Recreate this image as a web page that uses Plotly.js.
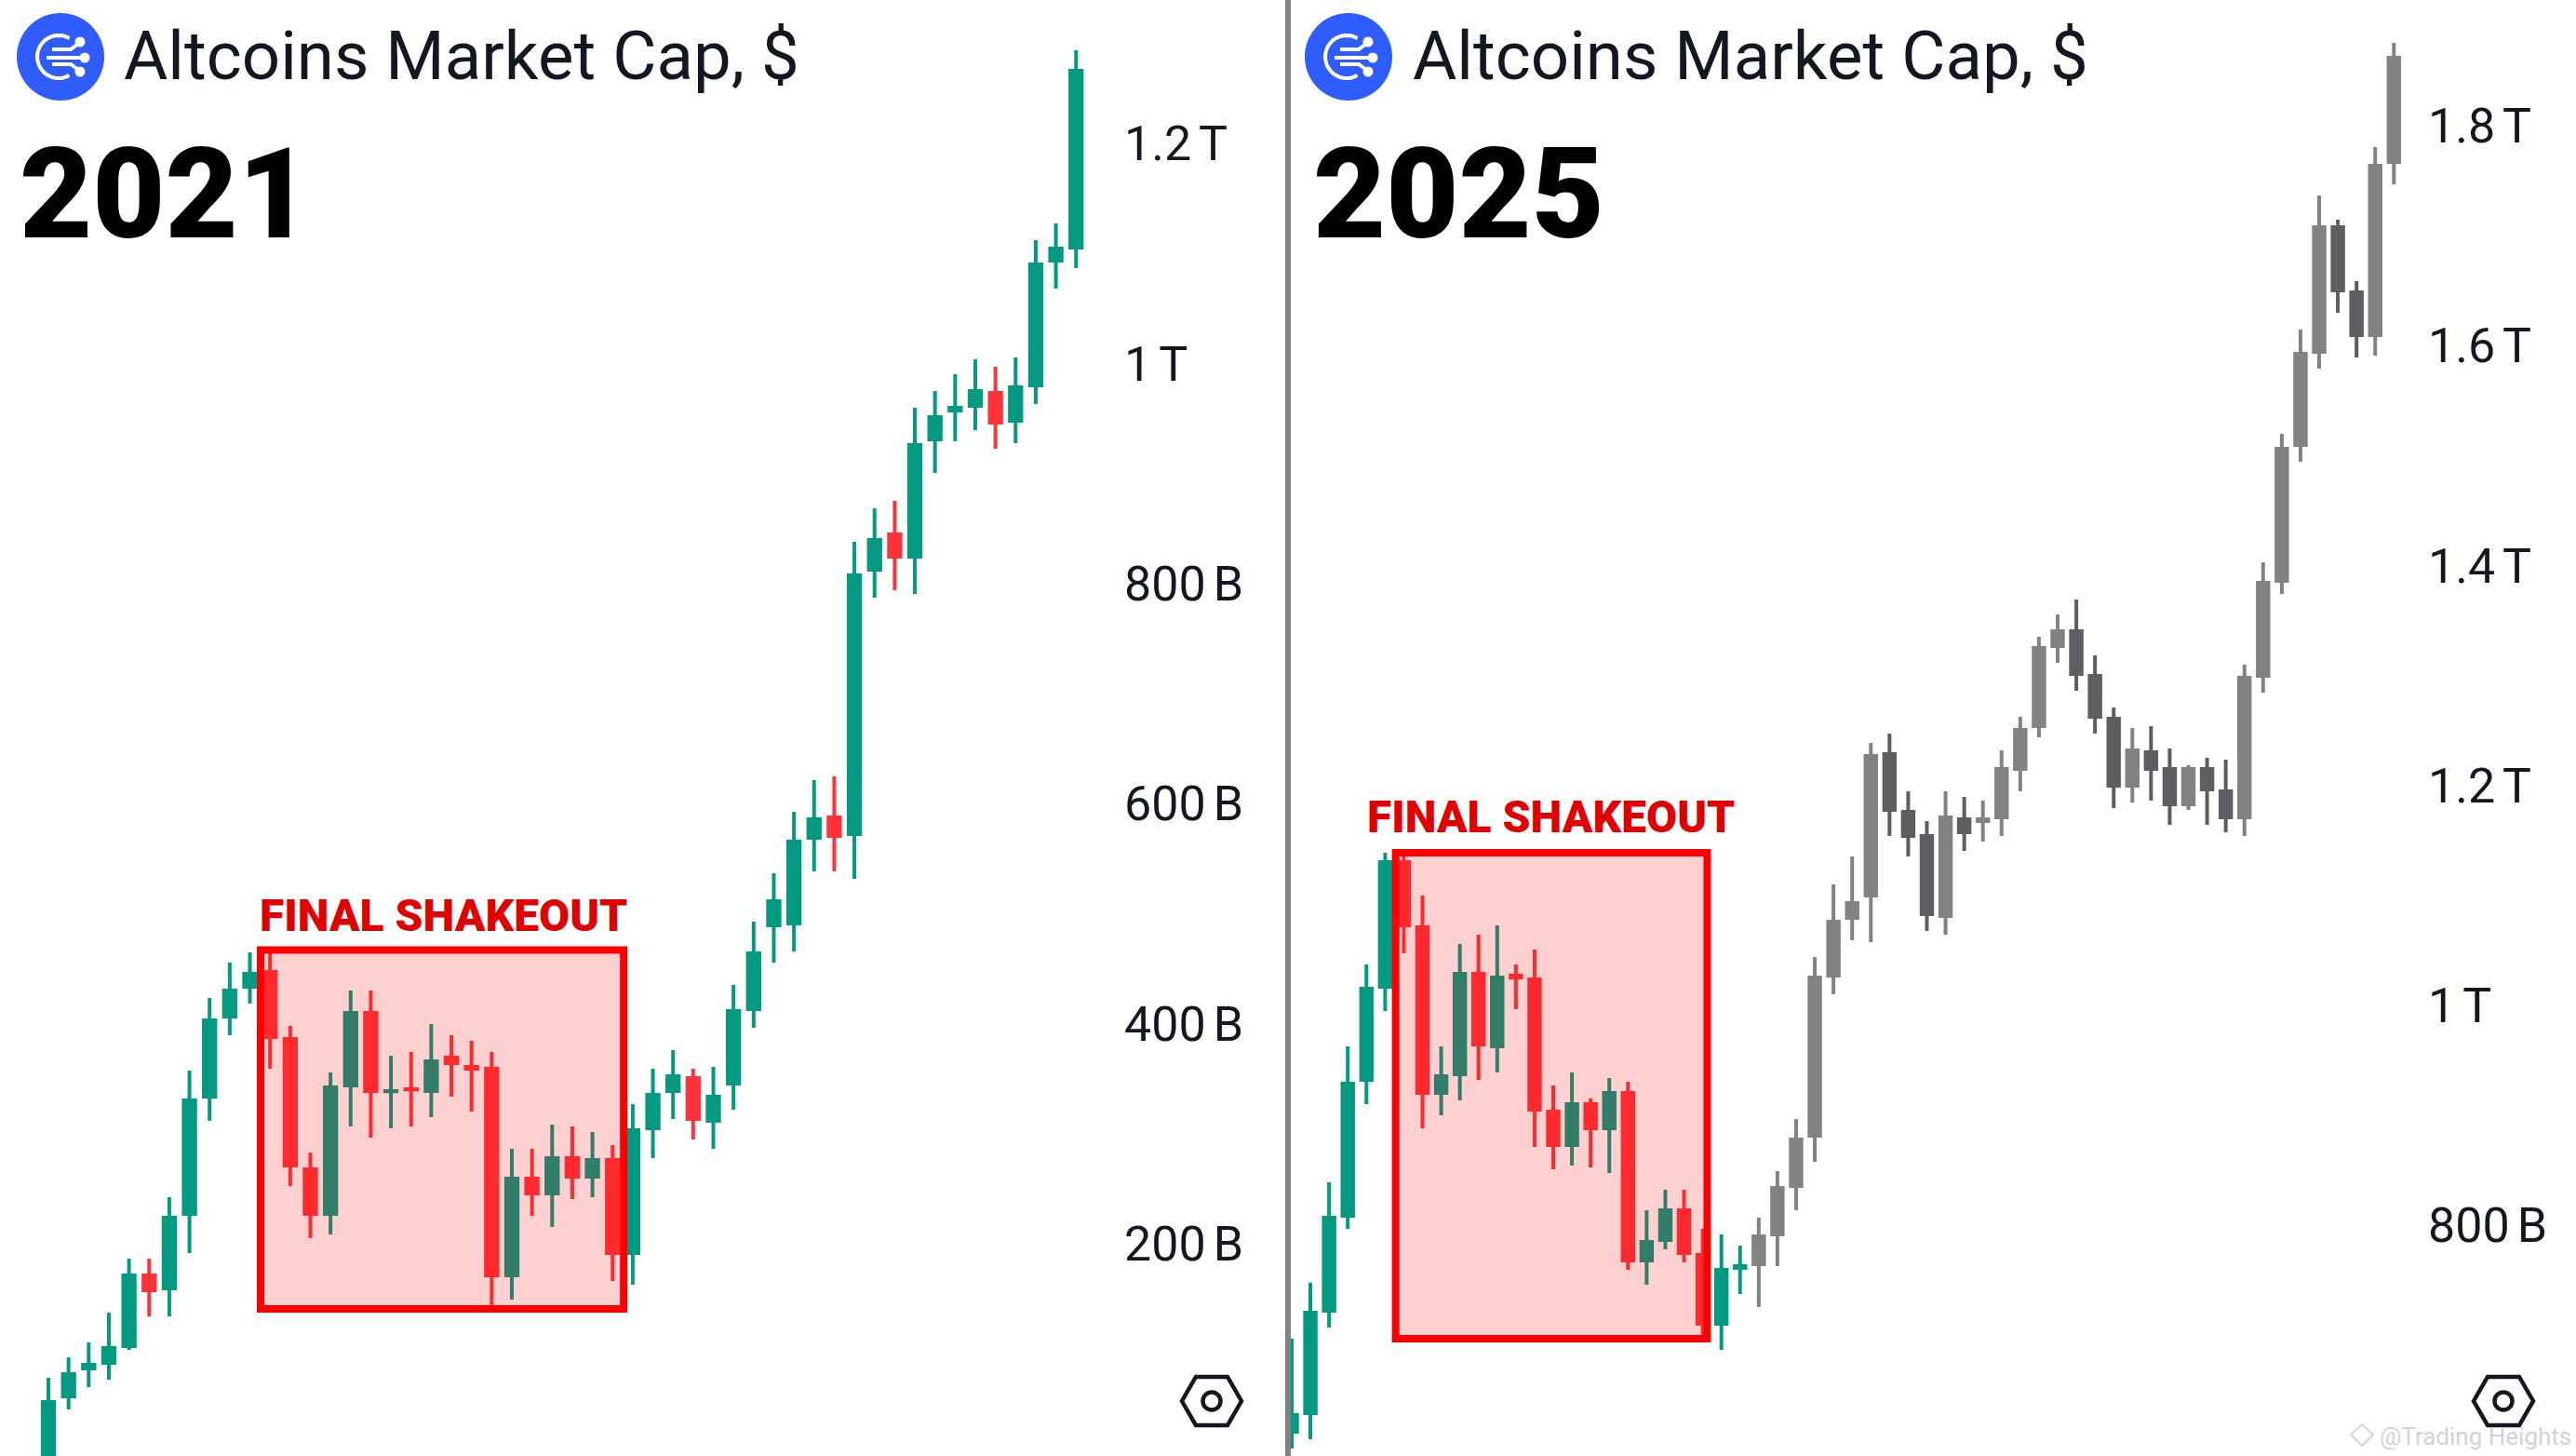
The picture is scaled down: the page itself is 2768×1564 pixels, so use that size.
<!DOCTYPE html>
<html><head><meta charset="utf-8">
<script src="https://cdn.plot.ly/plotly-3.0.1.min.js"></script>
<style>html,body{margin:0;padding:0;background:#fff}#c{width:2768px;height:1564px}</style>
</head><body><div id="c"></div>
<script>
const W = 2768, H = 1564;
const chartTitle = 'Altcoins Market Cap, $';
const shakeoutLabel = 'FINAL SHAKEOUT';
const watermark = '@Trading Heights';

// 2021 panel, values in billions of dollars
const high2021 = [78.2,96.8,110.4,137.4,186.5,186.5,242.3,357.4,423.4,455.5,464.8,469.1,398,283,355.7,430.2,430.2,370.9,374.3,399.7,389.5,384.5,374.3,286.3,286.3,308.3,306.6,301.6,289.7,326.9,359.1,376,359.1,360.8,435.2,492.8,536.8,592.6,621.4,624.7,837.9,868.4,875.2,959.8,975,990.2,1003.7,997,1005.4,1112,1127.3,1284.6];
const low2021 = [2,49.5,69.8,76.5,103.6,134.1,134.1,191.6,311.7,389.5,418.3,359.1,252.5,205.1,208.5,306.6,296.5,304.9,306.6,315.1,333.7,320.2,139.1,149.3,225.4,215.3,240.7,242.3,166.2,162.8,277.9,313.4,294.8,286.3,321.9,396.3,455.5,465.7,538.4,538.4,531.7,787.2,793.9,790.6,900.5,929.3,939.4,922.5,927.6,963.1,1068,1086.7];
const open2021 = [5,61.3,86.7,91.8,107,171.3,159.4,227.1,333.7,406.5,433.5,447.1,386.2,267.7,227.1,343.9,409.8,338.7,340.6,338.8,369.2,360.8,359.1,171.3,259.3,245.7,277.9,261,276.2,191.6,305,338.8,350.6,311.7,345.6,413.2,489.4,491.1,568.9,587.5,572.3,812.6,844.7,824.4,931,957.2,961.5,973.3,947.9,980.1,1093.4,1105.3];
const close2021 = [56.2,81.6,90.1,105.3,171.3,157.8,223.7,330.3,403.1,430.1,445.4,387.9,271.1,227.1,342.2,409.8,338.8,338.9,340.4,365.9,364.2,359.1,171.3,259.3,245.7,277.9,261,276.2,191.6,303.2,335.4,352.3,313.4,333.7,411.5,464,511.4,565.5,585.8,570.6,807.5,839.6,824.4,925.9,951.3,959.7,975,946.2,978.4,1090,1104.4,1266];
const ticks2021 = [200,400,600,800,1000,1200];
const labels2021 = ['200 B','400 B','600 B','800 B','1 T','1.2 T'];

// 2025 panel, values in billions of dollars
const high2025 = [696.7,747.5,839,962.6,1037.1,1138.7,1137,1099.8,962.6,1055.7,1064.2,1072.7,1037.1,1050.7,927,938.9,915.2,933.8,930.4,813.6,832.2,832.2,796.7,791.6,781.4,806.8,849.2,896.6,1043.9,1109.9,1135.3,1238.6,1247.1,1194.6,1167.5,1194.6,1189.5,1186.1,1231.9,1262.3,1335.2,1355.5,1369,1318.2,1270.8,1252.2,1253.9,1233.6,1218.3,1225.1,1223.4,1309.8,1402.9,1519.7,1614.6,1736.5,1714.5,1658.6,1780.5,1875.4];
const low2025 = [596.8,605.3,706.9,796.7,910.1,994.8,1047.3,888.1,900,913.5,932.1,938.9,996.5,871.2,850.8,854.2,852.5,847.5,759.4,745.9,778,766.2,693.4,686.6,737.4,725.5,762.8,813.6,857.6,1010,1059.1,1057.4,1154,1135.3,1067.6,1064.2,1140.4,1148.9,1154,1194.6,1243.7,1311.4,1286,1247.1,1179.4,1184.4,1186.1,1164.1,1177.7,1164.1,1157.4,1154,1284.4,1374.1,1494.3,1579,1629.8,1589.2,1590.9,1746.7];
const open2025 = [612.1,629,722.2,808.5,932.1,1016.8,1130.2,1071,920.3,937.2,1028.7,962.6,1027,1023.6,903.3,872.9,910.1,888.1,920.3,767.9,786.5,813.6,772.9,710.3,761.1,764.5,791.6,835.6,881.3,1027,1079.5,1099.8,1228.5,1176,1154,1081.2,1169.2,1167.5,1170.9,1214.9,1253.9,1326.7,1340.2,1299.6,1260.6,1199.7,1230.2,1214.9,1182.8,1214.9,1194.6,1170.9,1299.6,1386,1509.6,1594.3,1707.7,1648.4,1609.5,1767];
const close2025 = [627.3,720.4,806.8,928.7,1015.1,1130.2,1072.7,920.3,935.5,1028.7,964.3,1025.3,1025.3,905,872.9,910.1,888.1,920.3,767.9,784.8,813.6,774.6,710.3,759.4,762.8,789.9,833.9,877.9,1025.3,1076.1,1093,1226.8,1177.7,1154,1082.8,1170.9,1157.4,1169.2,1214.9,1250.5,1325,1340.2,1301.3,1262.3,1199.7,1231.9,1214.9,1182.8,1214.9,1196.3,1170.9,1297.9,1384.3,1506.2,1592.6,1707.7,1650.1,1609.5,1763.6,1861.8];
const ticks2025 = [800,1000,1200,1400,1600,1800];
const labels2025 = ['800 B','1 T','1.2 T','1.4 T','1.6 T','1.8 T'];
const colouredCount2025 = 25;   // candles after this are greyed out

const GREEN = '#049a81', RED = '#ff3339', GREYUP = '#828282', GREYDN = '#5d5e61', INK = '#131722';

const idx = a => a.map((_, i) => i);
function candle(x, o, h, l, c, up, dn, xa, ya) {
  return {type:'candlestick', x, open:o, high:h, low:l, close:c, xaxis:xa, yaxis:ya,
    whiskerwidth:0, hoverinfo:'skip', showlegend:false,
    increasing:{line:{color:up, width:4}, fillcolor:up},
    decreasing:{line:{color:dn, width:4}, fillcolor:dn}};
}
const x25 = idx(high2025), n = colouredCount2025;
const traces = [
  candle(idx(high2021), open2021, high2021, low2021, close2021, GREEN, RED, 'x', 'y'),
  candle(x25.slice(0,n), open2025.slice(0,n), high2025.slice(0,n), low2025.slice(0,n), close2025.slice(0,n), GREEN, RED, 'x2', 'y2'),
  candle(x25.slice(n), open2025.slice(n), high2025.slice(n), low2025.slice(n), close2025.slice(n), GREYUP, GREYDN, 'x2', 'y2')
];

// pixel helpers for page furniture only
const px = x => x / W, py = y => 1 - y / H;
const P = (x, y) => px(x) + ',' + py(y);
function poly(pts, close) { return 'M' + pts.map(p => P(p[0], p[1])).join('L') + (close ? 'Z' : ''); }
function paperPath(path, color, w, fill) {
  return {type:'path', xref:'paper', yref:'paper', path, layer:'above',
    line:{color, width:w}, fillcolor: fill || 'rgba(0,0,0,0)'};
}
function circle(cx, cy, r, fill, line, w) {
  return {type:'circle', xref:'paper', yref:'paper', layer:'above',
    x0:px(cx-r), x1:px(cx+r), y0:py(cy+r), y1:py(cy-r),
    fillcolor:fill, line:{color:line || fill, width:w || 0}};
}
function logo(cx, cy) {
  const arc = [];
  for (let a = 60; a <= 300; a += 10) {
    const t = a * Math.PI / 180;
    arc.push([cx - 2 + 23 * Math.cos(t) , cy + 23 * Math.sin(t)]);
  }
  const o = (dx, dy) => [cx + dx, cy + dy];
  return [
    circle(cx, cy, 47, '#2e5cff'),
    paperPath(poly(arc), '#fff', 4),
    paperPath(poly([o(-15,1), o(26,1)]), '#fff', 4),
    paperPath(poly([o(-9,-8), o(11,-8), o(22,-16)]), '#fff', 4),
    paperPath(poly([o(-9,8), o(11,8), o(22,16)]), '#fff', 4),
    circle(cx+26, cy+1, 5.5, '#fff'),
    circle(cx+21, cy-16, 5.5, '#fff'),
    circle(cx+21, cy+16, 5.5, '#fff')
  ];
}
function hexagon(cx, cy) {
  return [
    paperPath(poly([[cx-32,cy],[cx-17,cy-26],[cx+17,cy-26],[cx+32,cy],[cx+17,cy+26],[cx-17,cy+26]], true), INK, 4.5),
    circle(cx, cy, 9.5, 'rgba(0,0,0,0)', INK, 4.5)
  ];
}
function txt(text, x, y, size, opts) {
  opts = opts || {};
  return {text, xref:'paper', yref:'paper', x:px(x), y:py(y), showarrow:false,
    xanchor:opts.anchor || 'left', yanchor:'middle', borderpad:0,
    font:{family:opts.family || 'Roboto, sans-serif', size, color:opts.color || INK, weight:opts.weight || 400}};
}

const shapes = [
  {type:'rect', xref:'x', yref:'y', x0:10.53, x1:28.55, y0:140.8, y1:466.9, layer:'above',
    fillcolor:'rgba(255,0,0,0.185)', line:{color:'#ff0000', width:8}},
  {type:'rect', xref:'x2', yref:'y2', x0:5.56, x1:22.24, y0:696.7, y1:1138.7, layer:'above',
    fillcolor:'rgba(255,0,0,0.185)', line:{color:'#ff0000', width:8}},
  {type:'rect', xref:'paper', yref:'paper', x0:px(1381), x1:px(1387), y0:0, y1:1, layer:'above',
    fillcolor:'#828282', line:{width:0}},
  ...logo(65, 61), ...logo(1449, 61),
  ...hexagon(1302, 1505), ...hexagon(2690, 1505),
  paperPath(poly([[2526,1541],[2538,1530],[2550,1541],[2538,1553]], true), '#d3d6dc', 2)
];

const annotations = [
  txt(chartTitle, 132, 61, 72.6), txt(chartTitle, 1517, 61, 72.6),
  txt('2021', 20, 209, 135, {weight:900, color:'#000'}),
  txt('2025', 1410, 209, 135, {weight:900, color:'#000'}),
  txt(shakeoutLabel, 476, 984, 48, {anchor:'center', weight:900, color:'#e00000'}),
  txt(shakeoutLabel, 1667, 878, 48, {anchor:'center', weight:900, color:'#e00000'}),
  txt(watermark, 2556, 1543, 26, {color:'#d0d3da'})
];

function xax(range, domain) {
  return {range, domain, type:'linear', visible:true, showticklabels:false, ticks:'', showgrid:false,
    zeroline:false, showline:false, fixedrange:true, rangeslider:{visible:false}};
}
const tightLabel = s => s.replace(' ', '<span style="font-size:32px"> </span>');
function yax(range, tickvals, ticktext, anchor) {
  return {range, domain:[0,1], side:'right', anchor, tickmode:'array', tickvals, ticktext:ticktext.map(tightLabel), ticks:'',
    showgrid:false, zeroline:false, showline:false, fixedrange:true, ticklabelstandoff:12,
    tickfont:{family:'Roboto, sans-serif', size:52, color:INK}};
}

const layout = {
  width:W, height:H, margin:{l:0,r:0,t:0,b:0,pad:0}, paper_bgcolor:'#fff', plot_bgcolor:'#fff',
  showlegend:false, boxgap:0.43, boxgroupgap:0, dragmode:false, hovermode:false,
  xaxis:  Object.assign(xax([-2.402, 52.79], [0, 1195/W]), {anchor:'y'}),
  yaxis:  yax([7.2, 1330.3], ticks2021, labels2021, 'x'),
  xaxis2: Object.assign(xax([-0.05, 60.18], [1387/W, 2596/W]), {anchor:'y2'}),
  yaxis2: yax([590.1, 1914.3], ticks2025, labels2025, 'x2'),
  shapes, annotations
};
Plotly.newPlot('c', traces, layout, {displayModeBar:false, staticPlot:true, responsive:false});
</script></body></html>
